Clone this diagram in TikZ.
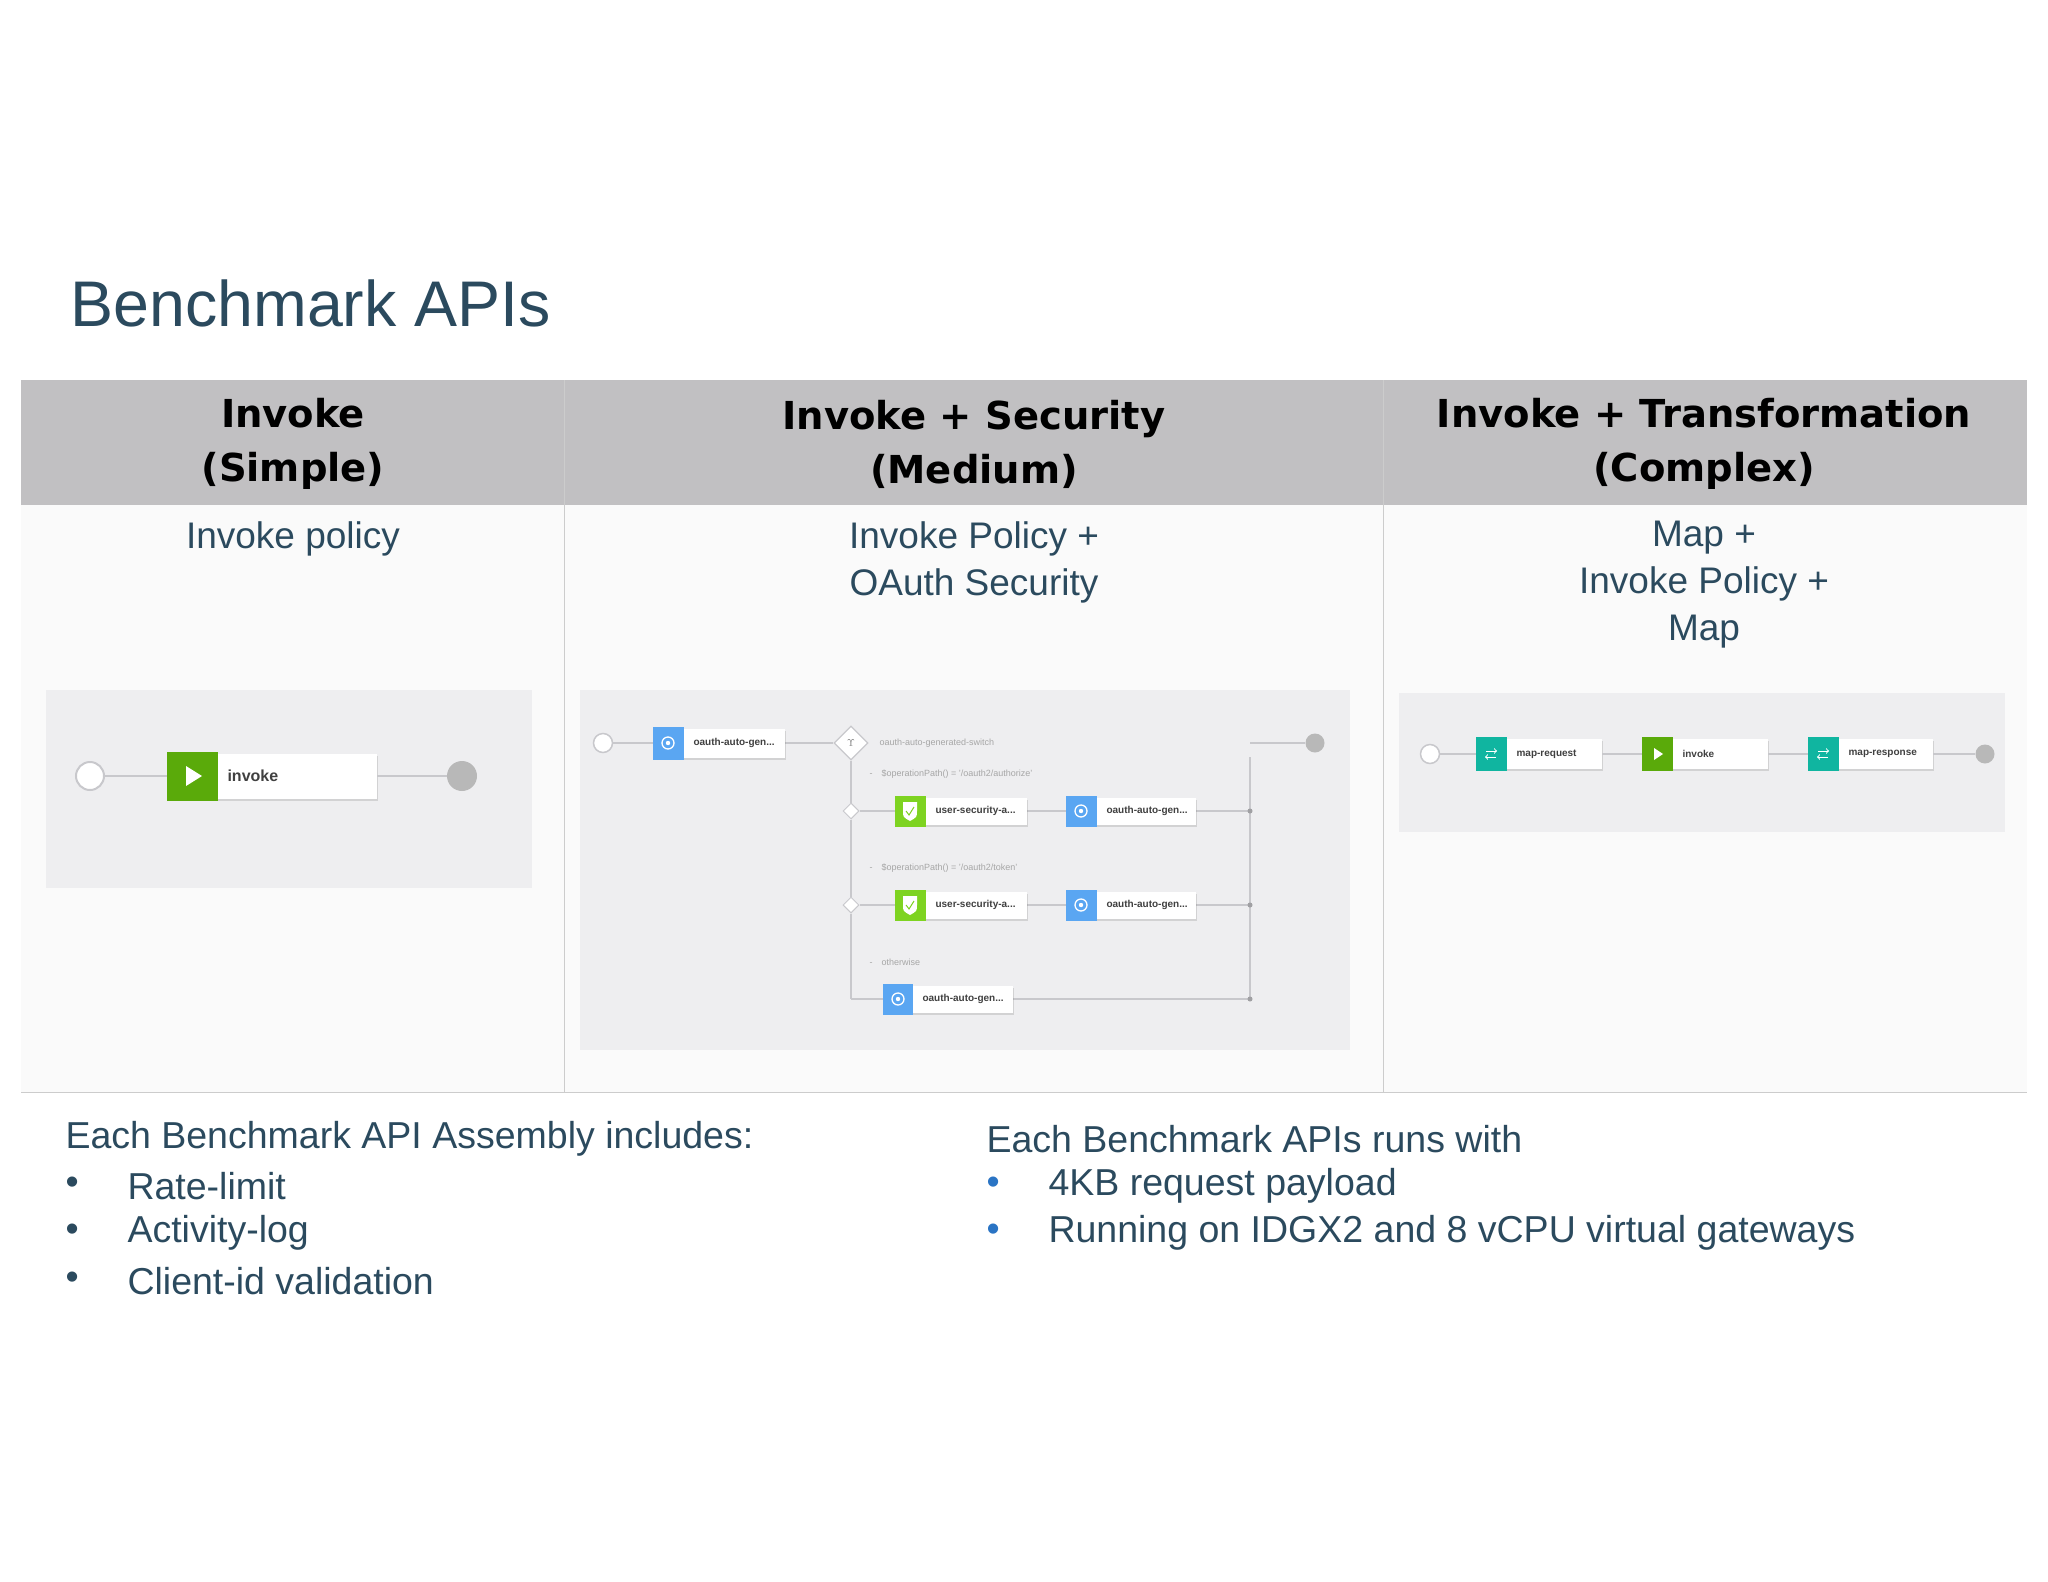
\documentclass[tikz,border=0pt]{standalone}
\usepackage{fontspec}
\setmainfont{Liberation Sans}
\newfontfamily\hdr{DejaVu Sans}
\usetikzlibrary{shapes.geometric,shadows}
\definecolor{ink}{HTML}{2B4A5E}
\definecolor{hdrgray}{HTML}{C1C0C2}
\definecolor{panel}{HTML}{EEEEF0}
\definecolor{pgreen}{HTML}{5AAA0A}
\definecolor{sgreen}{HTML}{7ED321}
\definecolor{pblue}{HTML}{5AA6F2}
\definecolor{pteal}{HTML}{10B5A0}
\definecolor{wirec}{HTML}{C8C8CC}
\definecolor{bl}{HTML}{2A74C4}
\tikzset{
 wire/.style={draw=wirec,line width=1.2pt},
 lbl/.style={draw=none,fill=white,inner sep=0pt,anchor=west,drop shadow={opacity=0.25,shadow xshift=1pt,shadow yshift=-2pt}},
 sub/.style={text=ink,font=\fontsize{37}{47}\selectfont,align=center},
 hd/.style={font=\hdr\bfseries\fontsize{38.5}{54}\selectfont,align=center},
 cond/.style={text=gray!70,font=\fontsize{9}{10}\selectfont,anchor=west},
 body/.style={text=ink,font=\fontsize{37.5}{40}\selectfont,anchor=west},
}
% policy node: name, left x, square width, label right x, y, height, colour, text, text size
\newcommand\mypolicy[9]{%
 \path[lbl] (#2,#5-#6/2+2) rectangle (#4,#5+#6/2-2);
 \fill[#7] (#2,#5-#6/2) rectangle (#2+#3,#5+#6/2);
 \node[inner sep=0pt,minimum width=#4-#2,minimum height=#6,anchor=west] (#1) at (#2,#5) {};
 \node[anchor=west,font=\fontsize{#9}{#9}\selectfont\bfseries,text=black!75] at (#2+#3+6,#5) {#8};}
\begin{document}
\begin{tikzpicture}[x=1pt,y=-1pt]
\useasboundingbox[fill=white] (0,0) rectangle (2048,1582);
% title
\node[anchor=west,text=ink,font=\fontsize{64.5}{70}\selectfont] at (67,303) {Benchmark APIs};
% table
\fill[black!2] (21,505) rectangle (2027,1092);
\fill[hdrgray] (21,380) rectangle (2027,505);
\draw[black!20,line width=1pt] (564,380) -- (564,1092) (1383,380) -- (1383,1092) (21,1092) -- (2027,1092);
\node[hd] at (293,444) {Invoke\\(Simple)};
\node[hd] at (974,444) {Invoke + Security\\(Medium)};
\node[hd] at (1704,444) {Invoke + Transformation\\(Complex)};
\node[sub,anchor=north] at (293,518) {Invoke policy};
\node[sub,anchor=north] at (974,518) {Invoke Policy +\\OAuth Security};
\node[sub,anchor=north] at (1704,518) {Map +\\Invoke Policy +\\Map};
% ---------- simple
\fill[panel] (46,690) rectangle (532,888);
\node[circle,draw=wirec,fill=white,line width=2pt,minimum size=28pt,inner sep=0pt] (s0) at (90,776) {};
\node[circle,fill=black!28,minimum size=30pt,inner sep=0pt] (s9) at (462,776) {};
\mypolicy{s1}{167}{51}{377}{776}{49}{pgreen}{invoke}{16}
\fill[white] (186,766) -- (186,786) -- (202,776) -- cycle;
\draw[wire] (s0) -- (s1) (s1) -- (s9);
% ---------- medium
\fill[panel] (580,690) rectangle (1350,1050);
\node[circle,draw=wirec,fill=white,line width=1.5pt,minimum size=19pt,inner sep=0pt] (m0) at (603,743) {};
\node[circle,fill=black!28,minimum size=19pt,inner sep=0pt] (m9) at (1315,743) {};
\node[diamond,draw=wirec,fill=white,line width=1.2pt,minimum size=34pt,inner sep=0pt] (md) at (851,743) {};
\node[text=gray,font=\fontsize{10}{10}\selectfont] at (851,743) {$\Upsilon$};
\node[cond] at (876,743) {oauth-auto-generated-switch};
\coordinate (mr) at (1250,743);
\node[diamond,draw=wirec,fill=white,line width=1pt,minimum size=16pt,inner sep=0pt] (d1) at (851,811) {};
\node[diamond,draw=wirec,fill=white,line width=1pt,minimum size=16pt,inner sep=0pt] (d2) at (851,905) {};
\coordinate (d3) at (851,999);
\coordinate (r1) at (1250,811);
\coordinate (r2) at (1250,905);
\coordinate (r3) at (1250,999);
\draw[wire] (m0) -- (653,743);
\draw[wire] (785,743) -- (md);
\draw[wire] (mr) -- (m9);
\draw[wire] (md) -- (d1) -- (d2) -- (d3);
\draw[wire] (1250,757) -- (r3);
\draw[wire] (d1) -- (r1) (d2) -- (r2) (d3) -- (r3);
\foreach \p in {r1,r2,r3} \fill[wirec!80!black] (\p) circle (2.5pt);
\node[cond] at (866,774) {-\quad \$operationPath() = '/oauth2/authorize'};
\node[cond] at (866,868) {-\quad \$operationPath() = '/oauth2/token'};
\node[cond] at (866,962) {-\quad otherwise};
\mypolicy{m1}{653}{31}{785}{743}{33}{pblue}{oauth-auto-gen...}{10}
\mypolicy{a1}{895}{31}{1027}{811}{31}{sgreen}{user-security-a...}{10}
\mypolicy{b1}{1066}{31}{1196}{811}{31}{pblue}{oauth-auto-gen...}{10}
\mypolicy{a2}{895}{31}{1027}{905}{31}{sgreen}{user-security-a...}{10}
\mypolicy{b2}{1066}{31}{1196}{905}{31}{pblue}{oauth-auto-gen...}{10}
\mypolicy{c3}{883}{30}{1013}{999}{31}{pblue}{oauth-auto-gen...}{10}
\foreach \x/\y in {668/743,1081/811,1081/905,898/999}
 {\draw[white,line width=1.3pt] (\x,\y) circle (6pt); \fill[white] (\x,\y) circle (2.2pt);}
\foreach \y in {811,905}
 {\fill[white] (903,\y-9) -- (917,\y-9) -- (917,\y) .. controls (917,\y+6) .. (910,\y+10) .. controls (903,\y+6) .. (903,\y) -- cycle;
  \draw[sgreen,line width=1pt] (906,\y) -- (909,\y+4) -- (914,\y-4);}
% ---------- complex
\fill[panel] (1399,693) rectangle (2005,832);
\node[circle,draw=wirec,fill=white,line width=1.5pt,minimum size=19pt,inner sep=0pt] (c0) at (1430,754) {};
\node[circle,fill=black!28,minimum size=19pt,inner sep=0pt] (c9) at (1985,754) {};
\mypolicy{c1}{1476}{31}{1602}{754}{34}{pteal}{map-request}{10}
\mypolicy{c2}{1642}{31}{1768}{754}{34}{pgreen}{invoke}{10}
\mypolicy{c4}{1808}{31}{1933}{754}{34}{pteal}{map-response}{10}
\fill[white] (1654,748) -- (1654,760) -- (1663,754) -- cycle;
\foreach \x in {1491,1823}
 {\draw[white,line width=1pt,->] (\x-5,751) -- (\x+6,751);
  \draw[white,line width=1pt,->] (\x+5,757) -- (\x-6,757);}
\draw[wire] (c0) -- (c1) (c1) -- (c2) (c2) -- (c4) (c4) -- (c9);
% ---------- bottom text
\node[body] at (62,1139) {Each Benchmark API Assembly includes:};
\foreach \y/\t in {1186/Rate-limit,1233/Activity-log,1281/Client-id validation}
 {\node[body] at (62,\y) {•}; \node[body] at (124,\y) {\t};}
\node[body] at (983,1139) {Each Benchmark APIs runs with};
\foreach \y/\t in {1186/4KB request payload,1233/Running on IDGX2 and 8 vCPU virtual gateways}
 {\node[body,text=bl] at (983,\y) {•}; \node[body] at (1045,\y) {\t};}
\end{tikzpicture}
\end{document}
